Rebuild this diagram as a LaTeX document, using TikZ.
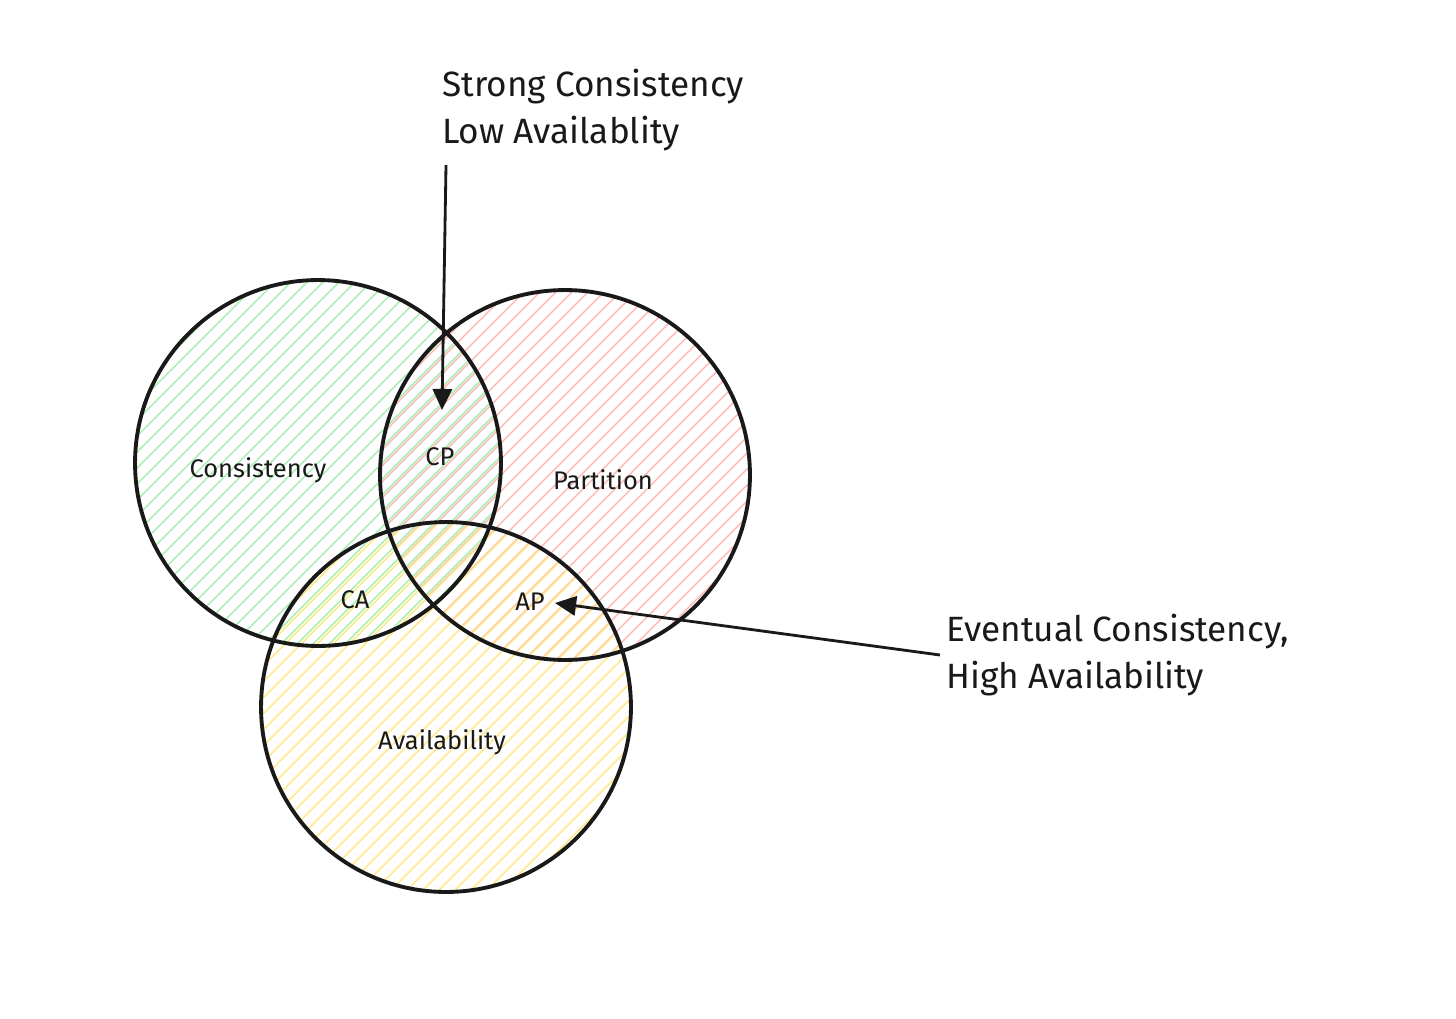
\documentclass[tikz,border=0pt]{standalone}
\usepackage{fontspec}
\setmainfont{Fira Sans}
\usetikzlibrary{arrows.meta}
\definecolor{cgreen}{HTML}{A6EDB0}
\definecolor{cred}{HTML}{FFB8B8}
\definecolor{cyel}{HTML}{FFE680}
\tikzset{
  ring/.style={draw=black!90, line width=2.2pt},
  lbl/.style={font=\fontsize{14.5}{16}\selectfont, text=black!90},
  big/.style={font=\fontsize{20}{27}\selectfont, text=black!90, align=left, anchor=west},
  arr/.style={-{Triangle[length=12pt,width=11pt]}, line width=1.6pt, draw=black!90}
}
\newcommand{\hatchcirc}[4]{%
  \begin{scope}
    \clip (#1,#2) circle (#3);
    \foreach \k in {-400,-384,...,400}
      \draw[#4, line width=0.8pt] (#1+\k-200,#2+200) -- (#1+\k+200,#2-200);
  \end{scope}}
\begin{document}
\begin{tikzpicture}[x=0.02cm,y=-0.02cm]
\useasboundingbox (0,0) rectangle (1456,1018);
\hatchcirc{318}{463}{183}{cgreen}
\hatchcirc{565}{475}{185}{cred}
\hatchcirc{446}{707}{185}{cyel}
\node[ring, circle, minimum size=7.32cm] (C) at (318,463) {};
\node[ring, circle, minimum size=7.4cm] (P) at (565,475) {};
\node[ring, circle, minimum size=7.4cm] (A) at (446,707) {};
\node[lbl] (lc) at (258,470) {Consistency};
\node[lbl] (lcp) at (440,457) {CP};
\node[lbl] (lp) at (603,480) {Partition};
\node[lbl] (lca) at (355,600) {CA};
\node[lbl] (lap) at (530,602) {AP};
\node[lbl] (la) at (442,742) {Availability};
\node[big] (t1) at (436,110) {Strong Consistency\\Low Availablity};
\node[big] (t2) at (940,655) {Eventual Consistency,\\High Availability};
\coordinate (s1) at (446,165);
\coordinate (e1) at (442,410);
\draw[arr] (s1) -- (e1);
\coordinate (s2) at (940,655);
\coordinate (e2) at (555,603);
\draw[arr] (s2) -- (e2);
\end{tikzpicture}
\end{document}
